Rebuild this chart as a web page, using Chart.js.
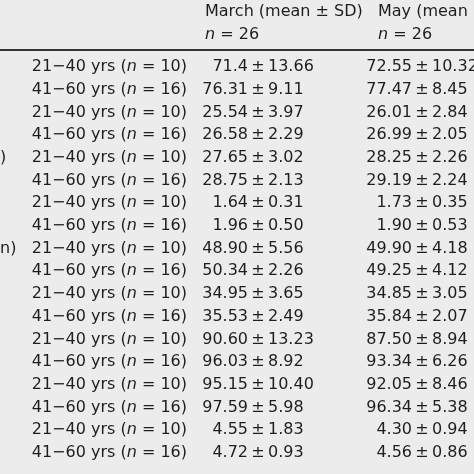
<!DOCTYPE html>
<html>
<head>
<meta charset="utf-8">
<script src="https://cdn.jsdelivr.net/npm/chart.js@4"></script>
<style>
  html, body { margin: 0; padding: 0; background: #ececec; }
  #wrap { width: 474px; height: 474px; }
</style>
</head>
<body>
<div id="wrap"><canvas id="table-chart"></canvas></div>
<script>
// table content, one entry per row
const stubs = ['', '', '', '', ')', '', '', '', 'n)', '', '', '', '', '', '', '', '', ''];
const ageGroups = ['21\u221240 yrs', '41\u221260 yrs'];
const groupN = [10, 16];
const marchMean = ['71.4', '76.31', '25.54', '26.58', '27.65', '28.75', '1.64', '1.96', '48.90', '50.34', '34.95', '35.53', '90.60', '96.03', '95.15', '97.59', '4.55', '4.72'];
const marchSD = ['13.66', '9.11', '3.97', '2.29', '3.02', '2.13', '0.31', '0.50', '5.56', '2.26', '3.65', '2.49', '13.23', '8.92', '10.40', '5.98', '1.83', '0.93'];
const mayMean = ['72.55', '77.47', '26.01', '26.99', '28.25', '29.19', '1.73', '1.90', '49.90', '49.25', '34.85', '35.84', '87.50', '93.34', '92.05', '96.34', '4.30', '4.56'];
const maySD = ['10.32', '8.45', '2.84', '2.05', '2.26', '2.24', '0.35', '0.53', '4.18', '4.12', '3.05', '2.07', '8.94', '6.26', '8.46', '5.38', '0.94', '0.86'];
const headers = ['March (mean \u00b1 SD)', 'May (mean \u00b1 SD)'];
const headerN = 26;

const rowIdx = marchMean.map((_, i) => i);
const FONT = '"DejaVu Sans", sans-serif';
const SIZE = 16;

function drawParts(ctx, parts, x, y, align) {
    // parts: [text, italic]
    let total = 0;
    parts.forEach(p => {
        ctx.font = (p[1] ? 'italic ' : '') + SIZE + 'px ' + FONT;
        total += ctx.measureText(p[0]).width;
    });
    let cx = align === 'right' ? x - total : x;
    parts.forEach(p => {
        ctx.font = (p[1] ? 'italic ' : '') + SIZE + 'px ' + FONT;
        ctx.textAlign = 'left';
        ctx.fillText(p[0], cx, y);
        cx += ctx.measureText(p[0]).width;
    });
}

const tablePlugin = {
    id: 'tableText',
    afterDraw(chart) {
        const ctx = chart.ctx;
        const xs = chart.scales.x, ys = chart.scales.y;
        ctx.save();
        ctx.fillStyle = '#1e1e1e';
        ctx.textBaseline = 'middle';

        // header
        const colX = [205, 378];
        headers.forEach((h, c) => {
            drawParts(ctx, [[h, false]], xs.getPixelForValue(colX[c]), ys.getPixelForValue(-2.45), 'left');
            drawParts(ctx, [['n', true], [' = ' + headerN, false]], xs.getPixelForValue(colX[c]), ys.getPixelForValue(-1.4), 'left');
        });
        ctx.strokeStyle = '#333';
        ctx.lineWidth = 2;
        ctx.beginPath();
        ctx.moveTo(xs.left, ys.getPixelForValue(-0.75));
        ctx.lineTo(xs.right, ys.getPixelForValue(-0.75));
        ctx.stroke();

        rowIdx.forEach(i => {
            const y = ys.getPixelForValue(i);
            const g = i % 2;
            if (stubs[i]) drawParts(ctx, [[stubs[i], false]], xs.getPixelForValue(0), y, 'left');
            drawParts(ctx, [[ageGroups[g] + ' (', false], ['n', true], [' = ' + groupN[g] + ')', false]],
                xs.getPixelForValue(187), y, 'right');
            [[marchMean, marchSD, 258], [mayMean, maySD, 422]].forEach(([m, s, pm]) => {
                const px = xs.getPixelForValue(pm);
                drawParts(ctx, [[m[i], false]], px - 10, y, 'right');
                ctx.font = SIZE + 'px ' + FONT;
                ctx.textAlign = 'center';
                ctx.fillText('\u00b1', px, y);
                drawParts(ctx, [[s[i], false]], px + 10, y, 'left');
            });
        });
        ctx.restore();
    }
};

new Chart(document.getElementById('table-chart'), {
    type: 'scatter',
    data: { datasets: [{ data: rowIdx.map(i => ({ x: 0, y: i })), pointRadius: 0 }] },
    options: {
        responsive: true,
        maintainAspectRatio: false,
        animation: false,
        layout: { padding: 0 },
        plugins: { legend: { display: false }, tooltip: { enabled: false } },
        scales: {
            x: { type: 'linear', min: 0, max: 474, display: false },
            y: { type: 'linear', reverse: true, min: -67 / 22.7, max: (474 - 67) / 22.7, display: false }
        }
    },
    plugins: [tablePlugin]
});
</script>
</body>
</html>
